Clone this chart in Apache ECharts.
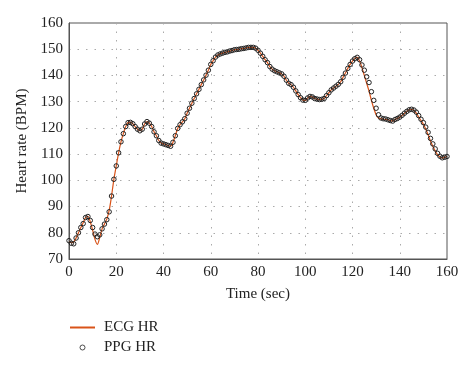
<!DOCTYPE html>
<html>
<head>
<meta charset="utf-8">
<script src="https://cdn.jsdelivr.net/npm/echarts@6/dist/echarts.min.js"></script>
<style>
  html, body { margin: 0; padding: 0; background: #fff; }
  #hr { width: 474px; height: 367px; }
</style>
</head>
<body>
<div id="hr"></div>
<script>
  // 时间 (sec), 每秒一个点
  var time = [];
  for (var i = 0; i <= 160; i++) time.push(i);

  // PPG 心率 (圆圈)
  var ppgHr = [
    77, 76, 75.8, 78, 80, 82, 83.5, 85.8, 86.2, 84.7,
    82, 79.5, 78.5, 79.2, 81.5, 83.3, 85, 88, 94, 100.4,
    105.5, 110.5, 114.7, 117.8, 120.5, 122, 122.1, 121.6, 120.5, 119.5,
    118.9, 119.5, 121.5, 122.4, 121.8, 120.5, 118.5, 117, 115.2, 114.2,
    113.9, 113.6, 113.3, 113, 114.5, 117, 119.8, 121.2, 122.3, 123.5,
    125.6, 127.5, 129.4, 131.2, 133, 134.7, 136.5, 138.3, 140.1, 142,
    144.2, 145.6, 147, 147.8, 148.2, 148.5, 148.8, 149, 149.3, 149.5,
    149.8, 149.9, 150, 150.2, 150.3, 150.5, 150.7, 150.7, 150.7, 150.4,
    149.6, 148.5, 147.3, 146, 144.9, 143.4, 142.4, 141.8, 141.4, 141,
    140.6, 139.7, 138.2, 137, 136.5, 135.5, 134.1, 132.7, 131.5, 130.6,
    130.5, 131.4, 132, 131.8, 131.2, 131, 130.8, 130.9, 131.2, 132.3,
    133.4, 134.5, 135.2, 135.9, 136.6, 137.6, 139.3, 140.9, 142.7, 144.2,
    145.5, 146.4, 146.9, 146, 144, 142, 139.5, 137.3, 133.8, 130.5,
    127.5, 125, 123.8, 123.5, 123.4, 123.1, 122.8, 122.6, 123.2, 123.6,
    124.1, 124.8, 125.6, 126.3, 126.9, 127.1, 126.8, 126, 124.7, 123.3,
    122, 120.3, 118.3, 116, 113.9, 112, 110.3, 109.2, 108.6, 108.8,
    109.1
  ];

  // ECG 心率 (红线)
  var ecgHr = [
    76.6, 76.2, 76.5, 78, 80, 82, 83.8, 85.8, 86.3, 84.2,
    81, 77.5, 75.6, 78.2, 81.5, 83.3, 85.2, 88.5, 94, 100.4,
    105.5, 110.5, 114.7, 117.8, 120.5, 122, 122.1, 121.6, 120.5, 119.5,
    118.9, 119.5, 121.5, 122.4, 121.8, 120.5, 118.5, 117, 115.2, 114.2,
    113.9, 113.6, 113.3, 113, 114.5, 117, 119.8, 121.2, 122.3, 123.5,
    125.6, 127.5, 129.4, 131.2, 133, 134.7, 136.5, 138.3, 140.1, 142,
    144.2, 145.6, 147, 147.8, 148.2, 148.5, 148.8, 149, 149.3, 149.5,
    149.8, 149.9, 150, 150.2, 150.3, 150.5, 150.7, 150.7, 150.7, 150.4,
    149.6, 148.5, 147.3, 146, 144.9, 143.4, 142.4, 141.8, 141.4, 141,
    140.6, 139.7, 138.2, 137, 136.5, 135.5, 134.1, 132.7, 131.5, 130.6,
    130.5, 131.4, 132, 131.8, 131.2, 131, 130.8, 130.9, 131.2, 132.3,
    133.4, 134.5, 135.2, 135.9, 136.6, 137.6, 139.3, 140.9, 142.7, 144.2,
    145.5, 146.5, 146.9, 145.5, 143, 140, 137, 134, 130.5, 127.5,
    125, 123.8, 123.5, 123.4, 123.2, 123.1, 122.8, 122.6, 123.2, 123.6,
    124.1, 124.8, 125.6, 126.3, 126.9, 127.1, 126.6, 125.6, 124.2, 122.8,
    121.4, 119.6, 117.4, 115, 113, 111.2, 109.8, 108.9, 108.5, 108.8,
    109.1
  ];

  var xTicks = [0, 20, 40, 60, 80, 100, 120, 140, 160];
  var yTicks = [70, 80, 90, 100, 110, 120, 130, 140, 150, 160];

  var font = '"Liberation Serif", "DejaVu Serif", serif';

  var ecgData = time.map(function (t, i) { return [t, ecgHr[i]]; });
  var ppgData = time.map(function (t, i) { return [t, ppgHr[i]]; });

  var myChart = echarts.init(document.getElementById('hr'));
  var option = {
    backgroundColor: '#fff',
    animation: false,
    textStyle: { fontFamily: font },
    grid: {
      left: 69, right: 27, top: 23, bottom: 108,
      show: true,
      borderColor: '#555',
      borderWidth: 1
    },
    legend: {
      orient: 'vertical',
      left: 69,
      top: 320,
      padding: 0,
      itemWidth: 25,
      itemHeight: 5,
      itemGap: 5,
      textStyle: { fontFamily: font, fontSize: 15, color: '#222', padding: [0, 0, 0, 4] },
      data: [
        { name: 'ECG HR', itemStyle: { opacity: 0 } },
        { name: 'PPG HR', icon: 'circle', itemStyle: { borderWidth: 0.8 } }
      ]
    },
    xAxis: {
      type: 'value',
      min: xTicks[0],
      max: xTicks[xTicks.length - 1],
      interval: 20,
      name: 'Time (sec)',
      nameLocation: 'middle',
      nameGap: 28,
      nameTextStyle: { fontFamily: font, fontSize: 15, color: '#222' },
      axisLine: { show: true, lineStyle: { color: '#555', width: 1 } },
      axisTick: { show: false },
      axisLabel: { fontFamily: font, fontSize: 15, color: '#222', margin: 6 },
      splitLine: { show: true, lineStyle: { color: '#aaa', type: [1.5, 7], width: 1 } }
    },
    yAxis: {
      type: 'value',
      min: yTicks[0],
      max: yTicks[yTicks.length - 1],
      interval: 10,
      name: 'Heart rate (BPM)',
      nameLocation: 'middle',
      nameGap: 35,
      nameTextStyle: { fontFamily: font, fontSize: 15, color: '#222' },
      axisLine: { show: true, lineStyle: { color: '#555', width: 1 } },
      axisTick: { show: false },
      axisLabel: { fontFamily: font, fontSize: 15, color: '#222', margin: 6 },
      splitLine: { show: true, lineStyle: { color: '#aaa', type: [1.5, 7], width: 1 } }
    },
    series: [
      {
        name: 'ECG HR',
        type: 'line',
        data: ecgData,
        showSymbol: false,
        symbol: 'none',
        smooth: 0.3,
        lineStyle: { color: '#D95319', width: 1.2 },
        itemStyle: { color: '#D95319' },
        z: 2
      },
      {
        name: 'PPG HR',
        type: 'scatter',
        data: ppgData,
        symbol: 'circle',
        symbolSize: 4.5,
        itemStyle: { color: 'rgba(255,255,255,0)', borderColor: '#222', borderWidth: 1, opacity: 1 },
        z: 3
      }
    ]
  };

  myChart.setOption(option);
</script>
</body>
</html>
